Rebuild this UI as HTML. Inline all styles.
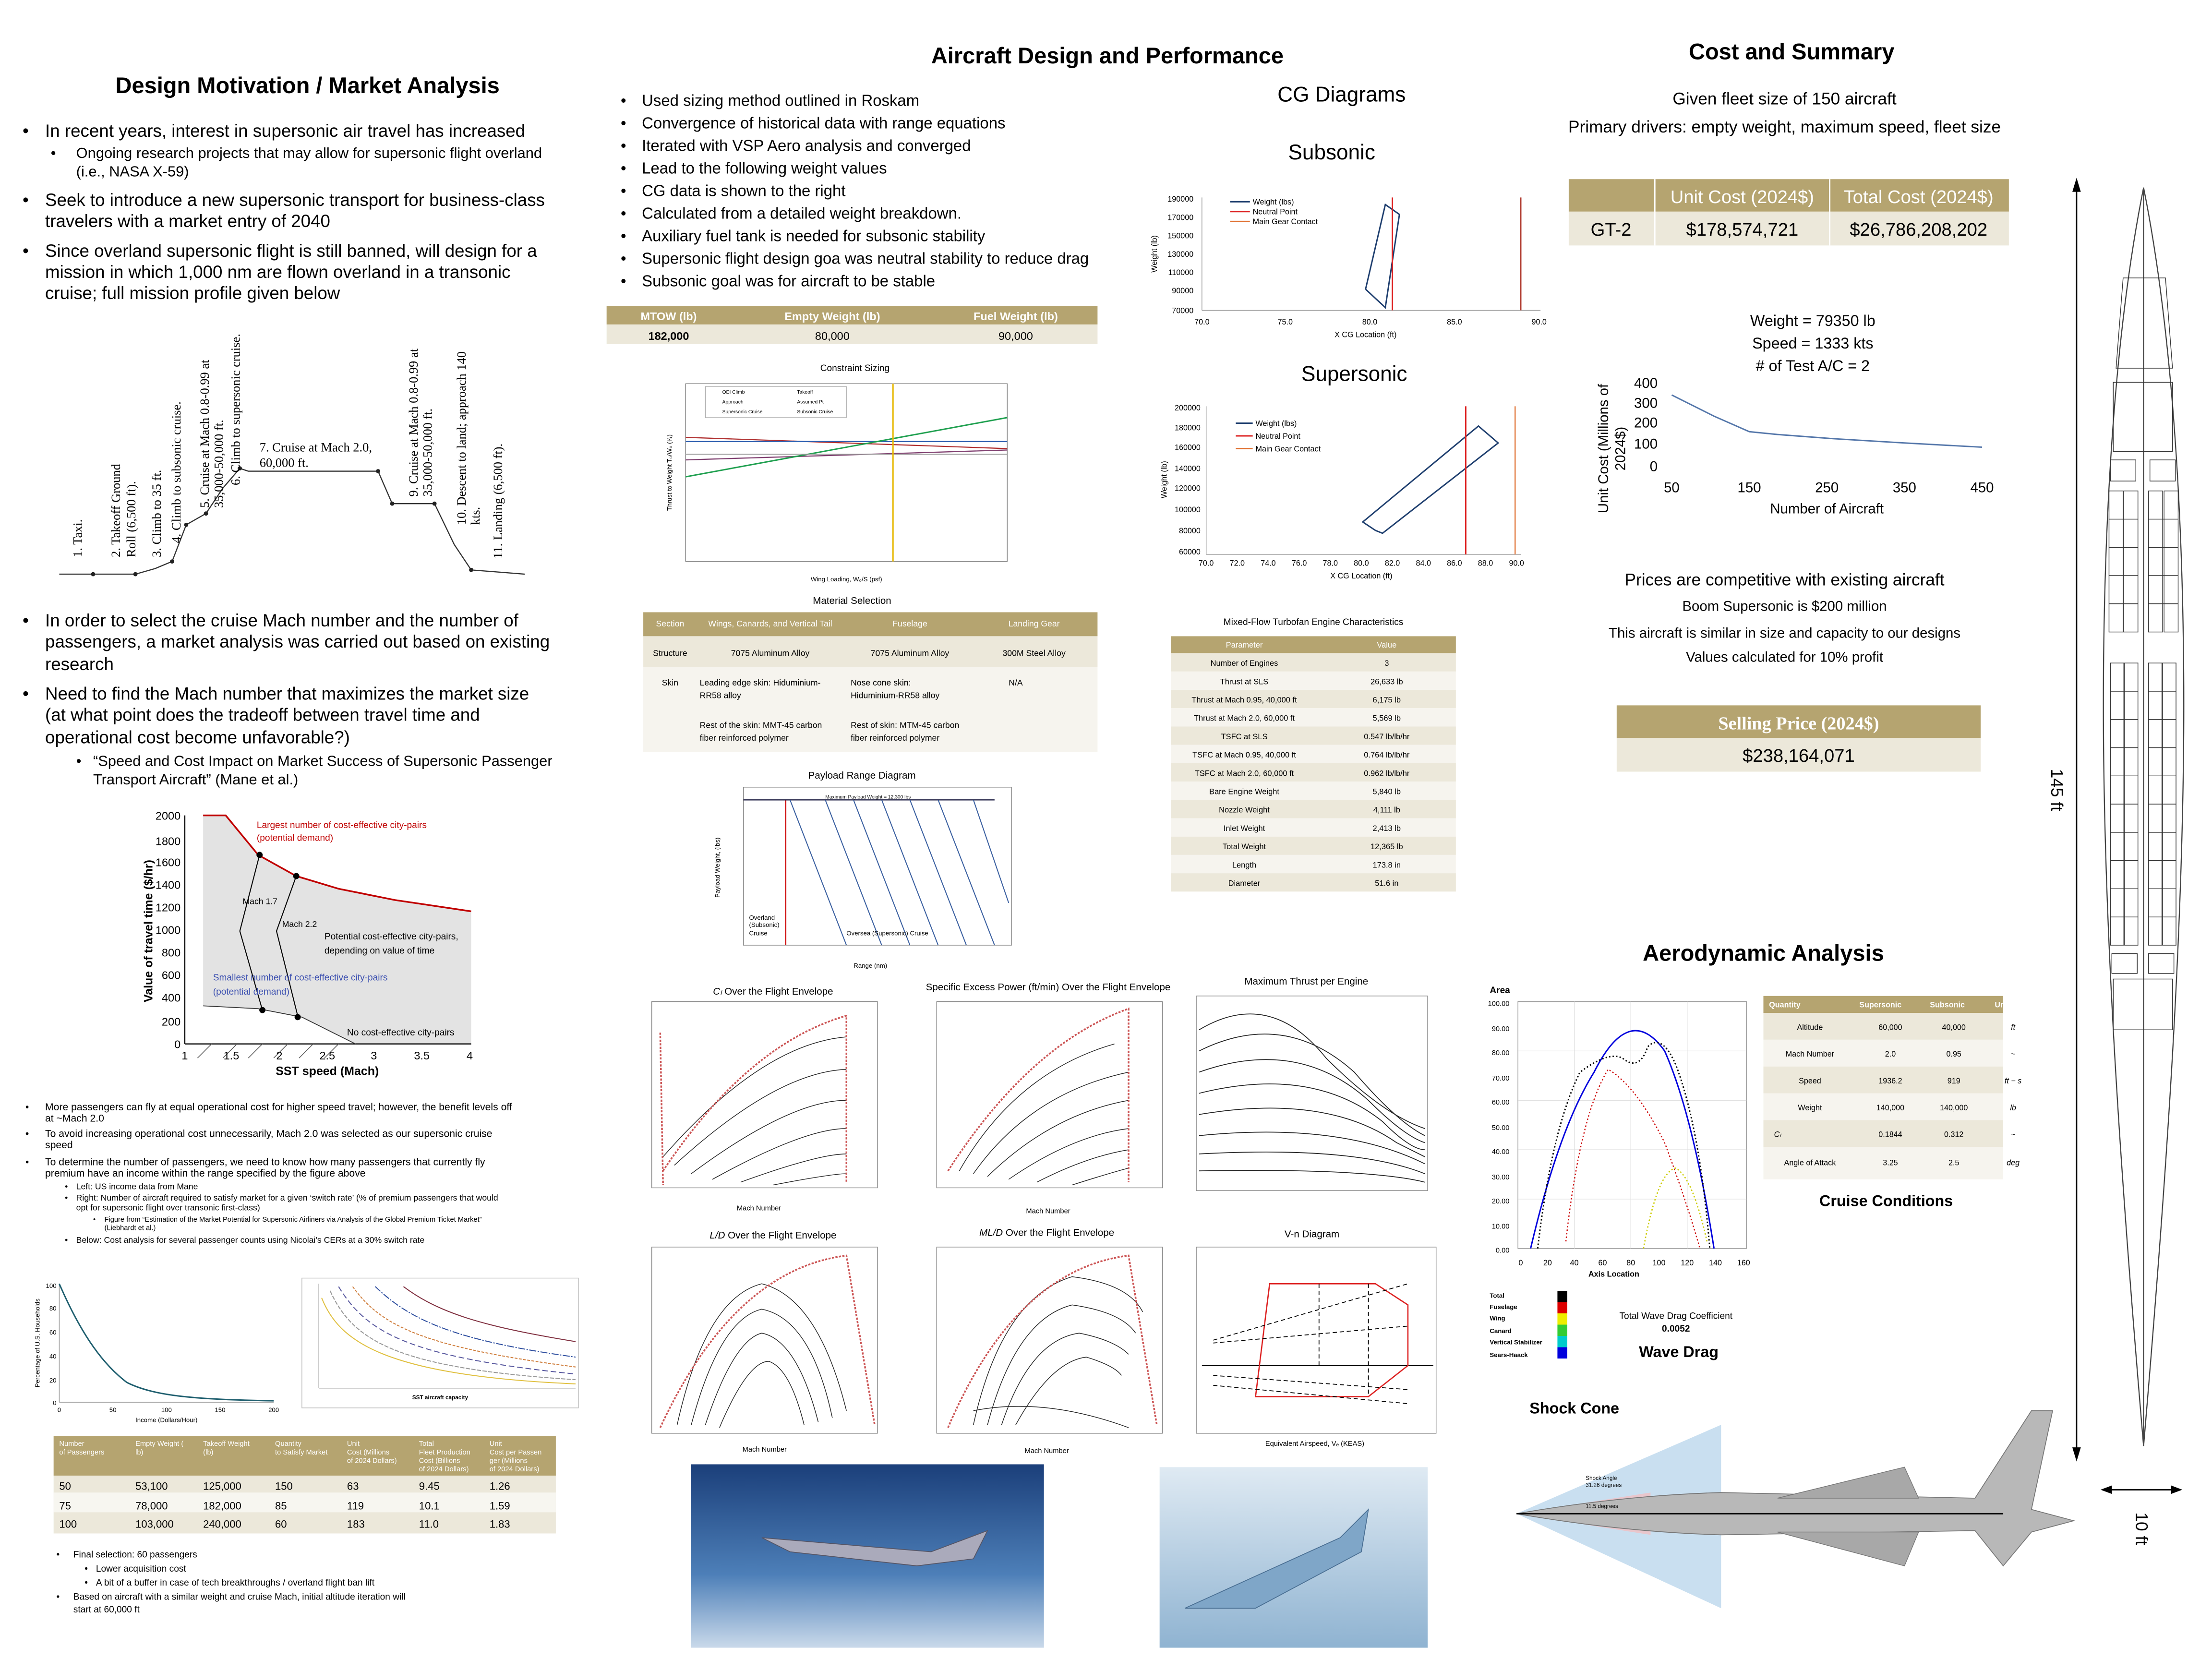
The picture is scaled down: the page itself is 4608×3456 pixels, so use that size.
<!DOCTYPE html>
<html><head><meta charset="utf-8">
<style>
html,body{margin:0;padding:0;background:#fff;}
svg{display:block;}
text{font-family:"Liberation Sans",sans-serif;fill:#000;}
.t{font-size:10.5px}
</style></head><body>
<svg width="4608" height="3456" viewBox="0 0 1568 1176" xmlns="http://www.w3.org/2000/svg">
<defs>
<linearGradient id="sky1" x1="0" y1="0" x2="0" y2="1"><stop offset="0" stop-color="#1b3f7a"/><stop offset="0.6" stop-color="#4d7fb8"/><stop offset="1" stop-color="#c9d9ea"/></linearGradient>
<linearGradient id="sky2" x1="0" y1="0" x2="0" y2="1"><stop offset="0" stop-color="#dfeaf3"/><stop offset="1" stop-color="#8fb3d1"/></linearGradient>
</defs>
<rect width="1568" height="1176" fill="#fff"/>

<!-- LEFT COLUMN -->
<text x="218" y="66" font-size="16" font-weight="bold" text-anchor="middle">Design Motivation / Market Analysis</text>
<g font-size="12.5">
<text x="16" y="97">•</text><text x="32" y="97">In recent years, interest in supersonic air travel has increased</text>
<text x="36" y="112" class="t">•</text><text x="54" y="112" font-size="10.5">Ongoing research projects that may allow for supersonic flight overland</text>
<text x="54" y="125" font-size="10.5">(i.e., NASA X-59)</text>
<text x="16" y="146">•</text><text x="32" y="146">Seek to introduce a new supersonic transport for business-class</text>
<text x="32" y="161">travelers with a market entry of 2040</text>
<text x="16" y="182">•</text><text x="32" y="182">Since overland supersonic flight is still banned, will design for a</text>
<text x="32" y="197">mission in which 1,000 nm are flown overland in a transonic</text>
<text x="32" y="212">cruise; full mission profile given below</text>
</g>
<g stroke="#333" stroke-width="0.8" fill="none">
<polyline points="42,407 96,407 110,403 122,398 132,372 146,364 158,346 170,332 176,334 268,334 278,357 308,357 322,386 334,404 372,407"/>
</g>
<g fill="#222"><circle cx="66" cy="407" r="1.5"/><circle cx="96" cy="407" r="1.5"/><circle cx="122" cy="398" r="1.5"/><circle cx="132" cy="372" r="1.5"/><circle cx="146" cy="364" r="1.5"/><circle cx="170" cy="332" r="1.5"/><circle cx="268" cy="334" r="1.5"/><circle cx="278" cy="357" r="1.5"/><circle cx="308" cy="357" r="1.5"/><circle cx="334" cy="404" r="1.5"/></g>
<g font-size="9">
<text transform="translate(58,395) rotate(-90)" style="font-family:'Liberation Serif'">1. Taxi.</text>
<text transform="translate(85,395) rotate(-90)" style="font-family:'Liberation Serif'">2. Takeoff Ground</text>
<text transform="translate(96,395) rotate(-90)" style="font-family:'Liberation Serif'">Roll (6,500 ft).</text>
<text transform="translate(114,395) rotate(-90)" style="font-family:'Liberation Serif'">3. Climb to 35 ft.</text>
<text transform="translate(128,385) rotate(-90)" style="font-family:'Liberation Serif'">4. Climb to subsonic cruise.</text>
<text transform="translate(148,360) rotate(-90)" style="font-family:'Liberation Serif'">5. Cruise at Mach 0.8-0.99 at</text>
<text transform="translate(158,360) rotate(-90)" style="font-family:'Liberation Serif'">35,000-50,000 ft.</text>
<text transform="translate(170,344) rotate(-90)" style="font-family:'Liberation Serif'">6. Climb to supersonic cruise.</text>
<text x="184" y="320" style="font-family:'Liberation Serif'">7. Cruise at Mach 2.0,</text>
<text x="184" y="331" style="font-family:'Liberation Serif'">60,000 ft.</text>
<text transform="translate(296,352) rotate(-90)" style="font-family:'Liberation Serif'">9. Cruise at Mach 0.8-0.99 at</text>
<text transform="translate(306,352) rotate(-90)" style="font-family:'Liberation Serif'">35,000-50,000 ft.</text>
<text transform="translate(330,372) rotate(-90)" style="font-family:'Liberation Serif'">10. Descent to land; approach 140</text>
<text transform="translate(340,372) rotate(-90)" style="font-family:'Liberation Serif'">kts.</text>
<text transform="translate(356,396) rotate(-90)" style="font-family:'Liberation Serif'">11. Landing (6,500 ft).</text>
</g>
<g font-size="12.5">
<text x="16" y="444">•</text><text x="32" y="444">In order to select the cruise Mach number and the number of</text>
<text x="32" y="459">passengers, a market analysis was carried out based on existing</text>
<text x="32" y="475">research</text>
<text x="16" y="496">•</text><text x="32" y="496">Need to find the Mach number that maximizes the market size</text>
<text x="32" y="511">(at what point does the tradeoff between travel time and</text>
<text x="32" y="527">operational cost become unfavorable?)</text>
<text x="54" y="543" font-size="10.5">•</text><text x="66" y="543" font-size="10.5">“Speed and Cost Impact on Market Success of Supersonic Passenger</text>
<text x="66" y="556" font-size="10.5">Transport Aircraft” (Mane et al.)</text>
</g>
<g>
<polygon points="144,578 160,578 183,606 210,621 240,630 280,638 334,646 334,740 252,740 214,721 183,715 144,713" fill="#e3e3e3"/>
<line x1="131" y1="740" x2="334" y2="740" stroke="#000" stroke-width="0.8"/>
<line x1="131" y1="578" x2="131" y2="740" stroke="#000" stroke-width="0.8"/>
<polyline points="144,578 160,578 183,606 210,621 240,630 280,638 334,646" fill="none" stroke="#c00000" stroke-width="1.2"/>
<polyline points="144,713 183,715 214,721 252,740" fill="none" stroke="#333" stroke-width="0.6"/>
<g stroke="#555" stroke-width="0.5"><line x1="150" y1="740" x2="140" y2="750"/><line x1="168" y1="740" x2="158" y2="750"/><line x1="186" y1="740" x2="176" y2="750"/><line x1="204" y1="740" x2="194" y2="750"/><line x1="222" y1="740" x2="212" y2="750"/><line x1="240" y1="740" x2="230" y2="750"/></g>
<g stroke="#000" stroke-width="0.7" fill="none"><line x1="184" y1="606" x2="170" y2="660"/><line x1="170" y1="660" x2="186" y2="716"/><line x1="210" y1="621" x2="196" y2="660"/><line x1="196" y1="660" x2="211" y2="720"/></g>
<circle cx="184" cy="606" r="2.2"/><circle cx="210" cy="621" r="2.2"/><circle cx="186" cy="716" r="2.2"/><circle cx="211" cy="721" r="2.2"/>
<g font-size="8" text-anchor="end"><text x="128" y="581">2000</text><text x="128" y="599">1800</text><text x="128" y="614">1600</text><text x="128" y="630">1400</text><text x="128" y="646">1200</text><text x="128" y="662">1000</text><text x="128" y="678">800</text><text x="128" y="694">600</text><text x="128" y="710">400</text><text x="128" y="727">200</text><text x="128" y="743">0</text></g>
<g font-size="8" text-anchor="middle"><text x="131" y="751">1</text><text x="164" y="751">1.5</text><text x="198" y="751">2</text><text x="232" y="751">2.5</text><text x="265" y="751">3</text><text x="299" y="751">3.5</text><text x="333" y="751">4</text></g>
<text x="232" y="762" font-size="8.5" font-weight="bold" text-anchor="middle">SST speed (Mach)</text>
<text transform="translate(108,660) rotate(-90)" font-size="8.5" font-weight="bold" text-anchor="middle">Value of travel time ($/hr)</text>
<text x="182" y="587" font-size="6.5" style="fill:#c00000">Largest number of cost-effective city-pairs</text>
<text x="182" y="596" font-size="6.5" style="fill:#c00000">(potential demand)</text>
<text x="172" y="641" font-size="6">Mach 1.7</text><text x="200" y="657" font-size="6">Mach 2.2</text>
<text x="230" y="666" font-size="6.5">Potential cost-effective city-pairs,</text>
<text x="230" y="676" font-size="6.5">depending on value of time</text>
<text x="151" y="695" font-size="6.5" style="fill:#3b4fb0">Smallest number of cost-effective city-pairs</text>
<text x="151" y="705" font-size="6.5" style="fill:#3b4fb0">(potential demand)</text>
<text x="246" y="734" font-size="6.5">No cost-effective city-pairs</text>
</g>
<g font-size="7.2">
<text x="18" y="787">•</text><text x="32" y="787">More passengers can fly at equal operational cost for higher speed travel; however, the benefit levels off</text>
<text x="32" y="795">at ~Mach 2.0</text>
<text x="18" y="806">•</text><text x="32" y="806">To avoid increasing operational cost unnecessarily, Mach 2.0 was selected as our supersonic cruise</text>
<text x="32" y="814">speed</text>
<text x="18" y="826">•</text><text x="32" y="826">To determine the number of passengers, we need to know how many passengers that currently fly</text>
<text x="32" y="834">premium have an income within the range specified by the figure above</text>
<text x="46" y="843" font-size="6">•</text><text x="54" y="843" font-size="6">Left: US income data from Mane</text>
<text x="46" y="851" font-size="6">•</text><text x="54" y="851" font-size="6">Right: Number of aircraft required to satisfy market for a given ‘switch rate’ (% of premium passengers that would</text>
<text x="54" y="858" font-size="6">opt for supersonic flight over transonic first-class)</text>
<text x="66" y="866" font-size="5">•</text><text x="74" y="866" font-size="5">Figure from “Estimation of the Market Potential for Supersonic Airliners via Analysis of the Global Premium Ticket Market”</text>
<text x="74" y="872" font-size="5">(Liebhardt et al.)</text>
<text x="46" y="881" font-size="6">•</text><text x="54" y="881" font-size="6">Below: Cost analysis for several passenger counts using Nicolai’s CERs at a 30% switch rate</text>
</g>
<g>
<line x1="42" y1="910" x2="42" y2="994" stroke="#999" stroke-width="0.5"/><line x1="42" y1="994" x2="194" y2="994" stroke="#999" stroke-width="0.5"/>
<path d="M42,910 C55,940 70,965 90,980 C110,990 140,992 194,993" fill="none" stroke="#1f5f6f" stroke-width="1"/>
<g font-size="4.5" text-anchor="end"><text x="40" y="913">100</text><text x="40" y="929">80</text><text x="40" y="946">60</text><text x="40" y="963">40</text><text x="40" y="980">20</text><text x="40" y="996">0</text></g>
<g font-size="4.5" text-anchor="middle"><text x="42" y="1001">0</text><text x="80" y="1001">50</text><text x="118" y="1001">100</text><text x="156" y="1001">150</text><text x="194" y="1001">200</text></g>
<text x="118" y="1008" font-size="4.5" text-anchor="middle">Income (Dollars/Hour)</text>
<text transform="translate(28,952) rotate(-90)" font-size="4.5" text-anchor="middle">Percentage of U.S. Households</text>
</g>
<g>
<rect x="214" y="906" width="196" height="92" fill="none" stroke="#bbb" stroke-width="0.5"/>
<line x1="226" y1="910" x2="226" y2="984" stroke="#888" stroke-width="0.4"/><line x1="226" y1="984" x2="408" y2="984" stroke="#888" stroke-width="0.4"/>
<path d="M228,920 C240,950 270,975 408,981" fill="none" stroke="#e0c040" stroke-width="0.7"/>
<path d="M234,915 C250,950 280,970 408,978" fill="none" stroke="#999" stroke-width="0.7" stroke-dasharray="3,1"/>
<path d="M240,912 C260,945 290,962 408,974" fill="none" stroke="#5a5aa0" stroke-width="0.7" stroke-dasharray="4,2"/>
<path d="M250,912 C270,940 300,955 408,969" fill="none" stroke="#d08040" stroke-width="0.7" stroke-dasharray="2,1"/>
<path d="M266,912 C290,935 320,950 408,962" fill="none" stroke="#3050a0" stroke-width="0.7" stroke-dasharray="5,1,1,1"/>
<path d="M286,912 C310,930 340,940 408,951" fill="none" stroke="#803040" stroke-width="0.7"/>
<text x="312" y="992" font-size="4" text-anchor="middle" font-weight="bold">SST aircraft capacity</text>
</g>
<g font-size="5">
<rect x="38" y="1018" width="356" height="28" fill="#b5a470"/>
<rect x="38" y="1046" width="356" height="41" fill="#ece8da"/>
<rect x="38" y="1058" width="356" height="14" fill="#fff" opacity="0.6"/>
<g><text x="42" y="1025" style="fill:#fff">Number</text><text x="42" y="1031" style="fill:#fff">of Passengers</text><text x="96" y="1025" style="fill:#fff">Empty Weight (</text><text x="96" y="1031" style="fill:#fff">lb)</text><text x="144" y="1025" style="fill:#fff">Takeoff Weight</text><text x="144" y="1031" style="fill:#fff">(lb)</text><text x="195" y="1025" style="fill:#fff">Quantity</text><text x="195" y="1031" style="fill:#fff">to Satisfy Market</text><text x="246" y="1025" style="fill:#fff">Unit</text><text x="246" y="1031" style="fill:#fff">Cost (Millions</text><text x="246" y="1037" style="fill:#fff">of 2024 Dollars)</text><text x="297" y="1025" style="fill:#fff">Total</text><text x="297" y="1031" style="fill:#fff">Fleet Production</text><text x="297" y="1037" style="fill:#fff">Cost (Billions</text><text x="297" y="1043" style="fill:#fff">of 2024 Dollars)</text><text x="347" y="1025" style="fill:#fff">Unit</text><text x="347" y="1031" style="fill:#fff">Cost per Passen</text><text x="347" y="1037" style="fill:#fff">ger (Millions</text><text x="347" y="1043" style="fill:#fff">of 2024 Dollars)</text></g>
<g font-size="7.5"><text x="42" y="1056">50</text><text x="96" y="1056">53,100</text><text x="144" y="1056">125,000</text><text x="195" y="1056">150</text><text x="246" y="1056">63</text><text x="297" y="1056">9.45</text><text x="347" y="1056">1.26</text>
<text x="42" y="1070">75</text><text x="96" y="1070">78,000</text><text x="144" y="1070">182,000</text><text x="195" y="1070">85</text><text x="246" y="1070">119</text><text x="297" y="1070">10.1</text><text x="347" y="1070">1.59</text>
<text x="42" y="1083">100</text><text x="96" y="1083">103,000</text><text x="144" y="1083">240,000</text><text x="195" y="1083">60</text><text x="246" y="1083">183</text><text x="297" y="1083">11.0</text><text x="347" y="1083">1.83</text></g>
</g>
<g font-size="6.5">
<text x="40" y="1104">•</text><text x="52" y="1104">Final selection: 60 passengers</text>
<text x="60" y="1114">•</text><text x="68" y="1114">Lower acquisition cost</text>
<text x="60" y="1124">•</text><text x="68" y="1124">A bit of a buffer in case of tech breakthroughs / overland flight ban lift</text>
<text x="40" y="1134">•</text><text x="52" y="1134">Based on aircraft with a similar weight and cruise Mach, initial altitude iteration will</text>
<text x="52" y="1143">start at 60,000 ft</text>
</g>

<!-- MIDDLE COLUMN -->
<text x="785" y="45" font-size="16" font-weight="bold" text-anchor="middle">Aircraft Design and Performance</text>
<g font-size="11.2">
<text x="440" y="75">•</text><text x="455" y="75">Used sizing method outlined in Roskam</text>
<text x="440" y="91">•</text><text x="455" y="91">Convergence of historical data with range equations</text>
<text x="440" y="107">•</text><text x="455" y="107">Iterated with VSP Aero analysis and converged</text>
<text x="440" y="123">•</text><text x="455" y="123">Lead to the following weight values</text>
<text x="440" y="139">•</text><text x="455" y="139">CG data is shown to the right</text>
<text x="440" y="155">•</text><text x="455" y="155">Calculated from a detailed weight breakdown.</text>
<text x="440" y="171">•</text><text x="455" y="171">Auxiliary fuel tank is needed for subsonic stability</text>
<text x="440" y="187">•</text><text x="455" y="187">Supersonic flight design goa was neutral stability to reduce drag</text>
<text x="440" y="203">•</text><text x="455" y="203">Subsonic goal was for aircraft to be stable</text>
</g>
<rect x="430" y="217" width="348" height="13" fill="#b5a470"/><rect x="430" y="230" width="348" height="14" fill="#ece8da"/>
<g font-size="8" text-anchor="middle" font-weight="bold"><text x="474" y="227" style="fill:#fff">MTOW (lb)</text><text x="590" y="227" style="fill:#fff">Empty Weight (lb)</text><text x="720" y="227" style="fill:#fff">Fuel Weight (lb)</text></g>
<g font-size="8" text-anchor="middle"><text x="474" y="241" font-weight="bold">182,000</text><text x="590" y="241">80,000</text><text x="720" y="241">90,000</text></g>
<text x="606" y="263" font-size="6.5" text-anchor="middle">Constraint Sizing</text>
<rect x="486" y="272" width="228" height="126" fill="none" stroke="#888" stroke-width="0.5"/>
<line x1="486" y1="310" x2="714" y2="318" stroke="#b03030" stroke-width="0.8"/>
<line x1="486" y1="313" x2="714" y2="313" stroke="#3060b0" stroke-width="0.8"/>
<line x1="486" y1="326" x2="714" y2="319" stroke="#804070" stroke-width="0.8"/>
<line x1="486" y1="338" x2="714" y2="296" stroke="#20a050" stroke-width="1"/>
<line x1="486" y1="322" x2="714" y2="322" stroke="#999" stroke-width="0.6"/>
<line x1="633" y1="272" x2="633" y2="398" stroke="#e6b800" stroke-width="1"/>
<rect x="500" y="274" width="100" height="22" fill="#fff" stroke="#aaa" stroke-width="0.4"/>
<g font-size="3.5"><text x="512" y="279">OEI Climb</text><text x="512" y="286">Approach</text><text x="512" y="293">Supersonic Cruise</text><text x="565" y="279">Takeoff</text><text x="565" y="286">Assumed Pt</text><text x="565" y="293">Subsonic Cruise</text></g>
<text x="600" y="412" font-size="4.5" text-anchor="middle">Wing Loading, W₀/S (psf)</text>
<text transform="translate(476,335) rotate(-90)" font-size="4.5" text-anchor="middle">Thrust to Weight T₀/W₀ (¹⁄₁)</text>
<text x="604" y="428" font-size="7" text-anchor="middle">Material Selection</text>
<rect x="456" y="434" width="322" height="17" fill="#b5a470"/>
<rect x="456" y="451" width="322" height="22" fill="#ece8da"/><rect x="456" y="473" width="322" height="60" fill="#f6f4ee"/>
<g font-size="6" text-anchor="middle"><text x="475" y="444" style="fill:#fff">Section</text><text x="546" y="444" style="fill:#fff">Wings, Canards, and Vertical Tail</text><text x="645" y="444" style="fill:#fff">Fuselage</text><text x="733" y="444" style="fill:#fff">Landing Gear</text>
<text x="475" y="465">Structure</text><text x="546" y="465">7075 Aluminum Alloy</text><text x="645" y="465">7075 Aluminum Alloy</text><text x="733" y="465">300M Steel Alloy</text><text x="475" y="486">Skin</text><text x="720" y="486">N/A</text></g>
<g font-size="6"><text x="496" y="486">Leading edge skin: Hiduminium-</text><text x="496" y="495">RR58 alloy</text><text x="496" y="516">Rest of the skin: MMT-45 carbon</text><text x="496" y="525">fiber reinforced polymer</text>
<text x="603" y="486">Nose cone skin:</text><text x="603" y="495">Hiduminium-RR58 alloy</text><text x="603" y="516">Rest of skin: MTM-45 carbon</text><text x="603" y="525">fiber reinforced polymer</text></g>
<text x="611" y="552" font-size="7" text-anchor="middle">Payload Range Diagram</text>
<rect x="527" y="558" width="190" height="112" fill="none" stroke="#888" stroke-width="0.5"/>
<line x1="557" y1="567" x2="557" y2="670" stroke="#c00" stroke-width="0.8"/>
<line x1="527" y1="567" x2="705" y2="567" stroke="#224" stroke-width="0.8"/>
<g stroke="#3a5fa0" stroke-width="0.7"><line x1="560" y1="567" x2="600" y2="670"/><line x1="585" y1="567" x2="625" y2="670"/><line x1="605" y1="567" x2="645" y2="670"/><line x1="625" y1="567" x2="665" y2="670"/><line x1="645" y1="567" x2="685" y2="670"/><line x1="665" y1="567" x2="705" y2="670"/><line x1="690" y1="567" x2="715" y2="640"/></g>
<text x="585" y="566" font-size="3.5">Maximum Payload Weight = 12,300 lbs</text>
<g font-size="4.5"><text x="531" y="652">Overland</text><text x="531" y="657">(Subsonic)</text><text x="531" y="663">Cruise</text><text x="600" y="663">Oversea (Supersonic) Cruise</text></g>
<text x="617" y="686" font-size="4.5" text-anchor="middle">Range (nm)</text>
<text transform="translate(510,615) rotate(-90)" font-size="4.5" text-anchor="middle">Payload Weight, (lbs)</text>
<g>
<text x="548" y="705" font-size="7" text-anchor="middle"><tspan font-style="italic">Cₗ</tspan> Over the Flight Envelope</text>
<rect x="462" y="710" width="160" height="132" fill="none" stroke="#888" stroke-width="0.5"/>
<g fill="none" stroke="#222" stroke-width="0.5"><path d="M470,820 Q540,740 600,735"/><path d="M478,826 Q550,760 600,758"/><path d="M490,832 Q560,780 600,780"/><path d="M505,836 Q570,800 600,800"/><path d="M525,838 Q580,818 600,818"/><path d="M548,840 Q590,832 600,832"/></g>
<path d="M468,732 L470,840" stroke="#c55" stroke-width="1.2" stroke-dasharray="1.5,1"/><path d="M470,830 Q530,740 600,720 L600,838" stroke="#c55" stroke-width="1.2" fill="none" stroke-dasharray="1.5,1"/>
<text x="538" y="858" font-size="5" text-anchor="middle">Mach Number</text>
<text x="743" y="702" font-size="7" text-anchor="middle">Specific Excess Power (ft/min) Over the Flight Envelope</text>
<rect x="664" y="710" width="160" height="132" fill="none" stroke="#888" stroke-width="0.5"/>
<g fill="none" stroke="#222" stroke-width="0.5"><path d="M680,830 Q720,760 790,740"/><path d="M690,832 Q730,775 800,760"/><path d="M700,834 Q745,790 800,780"/><path d="M715,836 Q760,805 800,800"/><path d="M735,838 Q770,820 800,815"/><path d="M760,840 Q785,832 800,828"/></g>
<path d="M672,830 Q730,740 800,715 L800,838" stroke="#c55" stroke-width="1.2" fill="none" stroke-dasharray="1.5,1"/>
<text x="743" y="860" font-size="5" text-anchor="middle">Mach Number</text>
<text x="548" y="878" font-size="7" text-anchor="middle"><tspan font-style="italic">L/D</tspan> Over the Flight Envelope</text>
<rect x="462" y="884" width="160" height="132" fill="none" stroke="#888" stroke-width="0.5"/>
<g fill="none" stroke="#222" stroke-width="0.5"><path d="M480,1010 Q500,920 540,910 Q580,920 600,1000"/><path d="M490,1010 Q510,935 540,928 Q575,935 590,1005"/><path d="M500,1010 Q520,950 540,945 Q565,950 580,1008"/><path d="M510,1012 Q530,965 545,965 Q560,970 570,1010"/></g>
<path d="M468,1012 Q520,900 600,890 L620,1010" stroke="#c55" stroke-width="1.2" fill="none" stroke-dasharray="1.5,1"/>
<text x="542" y="1029" font-size="5" text-anchor="middle">Mach Number</text>
<text x="742" y="876" font-size="7" text-anchor="middle"><tspan font-style="italic">ML/D</tspan> Over the Flight Envelope</text>
<rect x="664" y="884" width="160" height="132" fill="none" stroke="#888" stroke-width="0.5"/>
<g fill="none" stroke="#222" stroke-width="0.5"><path d="M690,1010 Q710,920 760,905 Q800,910 810,930"/><path d="M700,1010 Q720,935 760,925 Q795,930 805,945"/><path d="M710,1010 Q730,950 765,945 Q790,950 800,960"/><path d="M720,1010 Q745,965 770,962 Q790,968 795,975"/><path d="M690,1000 Q740,990 800,1012"/></g>
<path d="M672,1012 Q720,900 800,890 L820,1010" stroke="#c55" stroke-width="1.2" fill="none" stroke-dasharray="1.5,1"/>
<text x="742" y="1030" font-size="5" text-anchor="middle">Mach Number</text>
</g>
<text x="926" y="698" font-size="7" text-anchor="middle">Maximum Thrust per Engine</text>
<rect x="848" y="706" width="164" height="138" fill="none" stroke="#888" stroke-width="0.5"/>
<g fill="none" stroke="#222" stroke-width="0.6"><path d="M850,730 Q900,700 940,750 Q980,790 1010,800"/><path d="M850,745 Q910,715 960,760 Q990,795 1010,805"/><path d="M850,760 Q920,735 970,780 Q995,805 1010,810"/><path d="M850,775 Q930,755 980,795 Q1000,815 1010,815"/><path d="M850,790 Q940,775 990,810 L1010,820"/><path d="M850,805 Q950,795 1010,825"/><path d="M850,818 Q960,812 1010,832"/><path d="M850,830 Q970,828 1010,838"/></g>
<text x="930" y="877" font-size="7" text-anchor="middle">V-n Diagram</text>
<rect x="848" y="884" width="170" height="132" fill="none" stroke="#888" stroke-width="0.5"/>
<line x1="852" y1="968" x2="1016" y2="968" stroke="#000" stroke-width="0.6"/>
<polygon points="900,910 975,910 998,925 998,968 970,990 890,990" fill="none" stroke="#d22" stroke-width="0.9"/>
<g stroke="#000" stroke-width="0.6" stroke-dasharray="3,2"><line x1="860" y1="950" x2="998" y2="910"/><line x1="860" y1="952" x2="998" y2="940"/><line x1="860" y1="975" x2="998" y2="985"/><line x1="860" y1="982" x2="998" y2="995"/><line x1="935" y1="910" x2="935" y2="968"/><line x1="970" y1="910" x2="970" y2="990"/></g>
<text x="932" y="1025" font-size="5" text-anchor="middle">Equivalent Airspeed, Vₑ (KEAS)</text>
<rect x="490" y="1038" width="250" height="130" fill="url(#sky1)"/>
<path d="M540,1090 L660,1100 L700,1085 L690,1105 L650,1110 L560,1100 Z" fill="#aab" stroke="#556" stroke-width="0.6"/>
<rect x="822" y="1040" width="190" height="128" fill="url(#sky2)"/>
<path d="M840,1140 L950,1090 L970,1070 L965,1100 L890,1140 Z" fill="#7fa6c8" stroke="#4a6f93" stroke-width="0.6"/>
<text x="951" y="72" font-size="15" text-anchor="middle">CG Diagrams</text>
<text x="944" y="113" font-size="15" text-anchor="middle">Subsonic</text>
<line x1="852" y1="140" x2="852" y2="220" stroke="#999" stroke-width="0.5"/><line x1="852" y1="220" x2="1092" y2="220" stroke="#999" stroke-width="0.5"/>
<polyline points="968,205 982,145 992,152 982,218 968,205" fill="none" stroke="#1f3f6f" stroke-width="1"/>
<line x1="987" y1="140" x2="987" y2="220" stroke="#d22" stroke-width="1"/><line x1="1078" y1="140" x2="1078" y2="220" stroke="#b03a2e" stroke-width="1"/>
<g font-size="5.5"><line x1="872" y1="143" x2="886" y2="143" stroke="#1f3f6f"/><text x="888" y="145">Weight (lbs)</text><line x1="872" y1="150" x2="886" y2="150" stroke="#d22"/><text x="888" y="152">Neutral Point</text><line x1="872" y1="157" x2="886" y2="157" stroke="#e07030"/><text x="888" y="159">Main Gear Contact</text></g>
<g font-size="5.5" text-anchor="end"><text x="846" y="143">190000</text><text x="846" y="156">170000</text><text x="846" y="169">150000</text><text x="846" y="182">130000</text><text x="846" y="195">110000</text><text x="846" y="208">90000</text><text x="846" y="222">70000</text></g>
<g font-size="5.5" text-anchor="middle"><text x="852" y="230">70.0</text><text x="911" y="230">75.0</text><text x="971" y="230">80.0</text><text x="1031" y="230">85.0</text><text x="1091" y="230">90.0</text><text x="968" y="239">X CG Location (ft)</text></g>
<text transform="translate(820,180) rotate(-90)" font-size="5.5" text-anchor="middle">Weight (lb)</text>
<text x="960" y="270" font-size="15" text-anchor="middle">Supersonic</text>
<line x1="855" y1="288" x2="855" y2="393" stroke="#999" stroke-width="0.5"/><line x1="855" y1="393" x2="1078" y2="393" stroke="#999" stroke-width="0.5"/>
<polygon points="966,370 1048,302 1062,314 980,378 975,376" fill="none" stroke="#1f3f6f" stroke-width="1"/>
<line x1="1039" y1="288" x2="1039" y2="393" stroke="#d22" stroke-width="1"/><line x1="1074" y1="288" x2="1074" y2="393" stroke="#e07030" stroke-width="0.8"/>
<g font-size="5.5"><line x1="876" y1="300" x2="888" y2="300" stroke="#1f3f6f"/><text x="890" y="302">Weight (lbs)</text><line x1="876" y1="309" x2="888" y2="309" stroke="#d22"/><text x="890" y="311">Neutral Point</text><line x1="876" y1="318" x2="888" y2="318" stroke="#e07030"/><text x="890" y="320">Main Gear Contact</text></g>
<g font-size="5.5" text-anchor="end"><text x="851" y="291">200000</text><text x="851" y="305">180000</text><text x="851" y="319">160000</text><text x="851" y="334">140000</text><text x="851" y="348">120000</text><text x="851" y="363">100000</text><text x="851" y="378">80000</text><text x="851" y="393">60000</text></g>
<g font-size="5.5" text-anchor="middle"><text x="855" y="401">70.0</text><text x="877" y="401">72.0</text><text x="899" y="401">74.0</text><text x="921" y="401">76.0</text><text x="943" y="401">78.0</text><text x="965" y="401">80.0</text><text x="987" y="401">82.0</text><text x="1009" y="401">84.0</text><text x="1031" y="401">86.0</text><text x="1053" y="401">88.0</text><text x="1075" y="401">90.0</text><text x="965" y="410">X CG Location (ft)</text></g>
<text transform="translate(827,340) rotate(-90)" font-size="5.5" text-anchor="middle">Weight (lb)</text>
<text x="931" y="443" font-size="6.5" text-anchor="middle">Mixed-Flow Turbofan Engine Characteristics</text>
<rect x="830" y="451" width="202" height="12" fill="#b5a470"/>
<g>
<rect x="830" y="463" width="202" height="13" fill="#ece8da"/><rect x="830" y="489" width="202" height="13" fill="#ece8da"/><rect x="830" y="515" width="202" height="13" fill="#ece8da"/><rect x="830" y="541" width="202" height="13" fill="#ece8da"/><rect x="830" y="567" width="202" height="13" fill="#ece8da"/><rect x="830" y="593" width="202" height="13" fill="#ece8da"/><rect x="830" y="619" width="202" height="13" fill="#ece8da"/>
<rect x="830" y="476" width="202" height="13" fill="#f6f4ee"/><rect x="830" y="502" width="202" height="13" fill="#f6f4ee"/><rect x="830" y="528" width="202" height="13" fill="#f6f4ee"/><rect x="830" y="554" width="202" height="13" fill="#f6f4ee"/><rect x="830" y="580" width="202" height="13" fill="#f6f4ee"/><rect x="830" y="606" width="202" height="13" fill="#f6f4ee"/>
</g>
<g font-size="5.6" text-anchor="middle"><text x="882" y="459" style="fill:#fff">Parameter</text><text x="983" y="459" style="fill:#fff">Value</text>
<text x="882" y="472">Number of Engines</text><text x="983" y="472">3</text>
<text x="882" y="485">Thrust at SLS</text><text x="983" y="485">26,633 lb</text>
<text x="882" y="498">Thrust at Mach 0.95, 40,000 ft</text><text x="983" y="498">6,175 lb</text>
<text x="882" y="511">Thrust at Mach 2.0, 60,000 ft</text><text x="983" y="511">5,569 lb</text>
<text x="882" y="524">TSFC at SLS</text><text x="983" y="524">0.547 lb/lb/hr</text>
<text x="882" y="537">TSFC at Mach 0.95, 40,000 ft</text><text x="983" y="537">0.764 lb/lb/hr</text>
<text x="882" y="550">TSFC at Mach 2.0, 60,000 ft</text><text x="983" y="550">0.962 lb/lb/hr</text>
<text x="882" y="563">Bare Engine Weight</text><text x="983" y="563">5,840 lb</text>
<text x="882" y="576">Nozzle Weight</text><text x="983" y="576">4,111 lb</text>
<text x="882" y="589">Inlet Weight</text><text x="983" y="589">2,413 lb</text>
<text x="882" y="602">Total Weight</text><text x="983" y="602">12,365 lb</text>
<text x="882" y="615">Length</text><text x="983" y="615">173.8 in</text>
<text x="882" y="628">Diameter</text><text x="983" y="628">51.6 in</text></g>

<!-- RIGHT COLUMN -->
<text x="1270" y="42" font-size="16" font-weight="bold" text-anchor="middle">Cost and Summary</text>
<text x="1265" y="74" font-size="12" text-anchor="middle">Given fleet size of 150 aircraft</text>
<text x="1265" y="94" font-size="12" text-anchor="middle">Primary drivers: empty weight, maximum speed, fleet size</text>
<rect x="1112" y="127" width="312" height="23" fill="#b5a470"/><rect x="1112" y="150" width="312" height="24" fill="#ece8da"/>
<line x1="1173" y1="127" x2="1173" y2="174" stroke="#fff" stroke-width="1"/><line x1="1297" y1="127" x2="1297" y2="174" stroke="#fff" stroke-width="1"/>
<g font-size="13" text-anchor="middle"><text x="1235" y="144" style="fill:#fff">Unit Cost (2024$)</text><text x="1360" y="144" style="fill:#fff">Total Cost (2024$)</text><text x="1142" y="167">GT-2</text><text x="1235" y="167">$178,574,721</text><text x="1360" y="167">$26,786,208,202</text></g>
<g font-size="11" text-anchor="middle"><text x="1285" y="231">Weight = 79350 lb</text><text x="1285" y="247">Speed = 1333 kts</text><text x="1285" y="263">&#35; of Test A/C = 2</text></g>
<polyline points="1185,280 1215,295 1240,306 1260,308 1300,311 1350,314 1405,317" fill="none" stroke="#5577aa" stroke-width="1"/>
<g font-size="10" text-anchor="end"><text x="1175" y="275">400</text><text x="1175" y="289">300</text><text x="1175" y="303">200</text><text x="1175" y="318">100</text><text x="1175" y="334">0</text></g>
<g font-size="10" text-anchor="middle"><text x="1185" y="349">50</text><text x="1240" y="349">150</text><text x="1295" y="349">250</text><text x="1350" y="349">350</text><text x="1405" y="349">450</text><text x="1295" y="364">Number of Aircraft</text></g>
<text transform="translate(1140,318) rotate(-90)" font-size="10" text-anchor="middle">Unit Cost (Millions of</text>
<text transform="translate(1152,318) rotate(-90)" font-size="10" text-anchor="middle">2024$)</text>
<text x="1265" y="415" font-size="12" text-anchor="middle">Prices are competitive with existing aircraft</text>
<g font-size="10" text-anchor="middle"><text x="1265" y="433">Boom Supersonic is $200 million</text><text x="1265" y="452">This aircraft is similar in size and capacity to our designs</text><text x="1265" y="469">Values calculated for 10% profit</text></g>
<rect x="1146" y="500" width="258" height="23" fill="#b5a470"/><rect x="1146" y="523" width="258" height="24" fill="#ece8da"/>
<text x="1275" y="517" font-size="13" font-weight="bold" text-anchor="middle" style="font-family:'Liberation Serif';fill:#fff">Selling Price (2024$)</text>
<text x="1275" y="540" font-size="13" text-anchor="middle">$238,164,071</text>
<!-- aircraft planform -->
<line x1="1472" y1="130" x2="1472" y2="1032" stroke="#000" stroke-width="1"/>
<polygon points="1472,126 1469,136 1475,136"/><polygon points="1472,1036 1469,1026 1475,1026"/>
<text transform="translate(1454,545) rotate(90)" font-size="12">145 ft</text>
<path d="M1519.5,133 C1500,230 1491,360 1491,500 C1491,650 1502,820 1519.5,1025 C1537,820 1548,650 1548,500 C1548,360 1539,230 1519.5,133 Z" fill="#fff" stroke="#444" stroke-width="0.8"/>
<line x1="1519.5" y1="133" x2="1519.5" y2="1025" stroke="#444" stroke-width="0.8"/>
<g fill="none" stroke="#333" stroke-width="0.5">
<path d="M1505,197 L1535,197 L1540,261 L1500,261 Z"/>
<rect x="1498" y="271" width="42" height="49"/>
<rect x="1496" y="326" width="18" height="15"/><rect x="1524" y="326" width="18" height="15"/>
<rect x="1495" y="348" width="10" height="100"/><rect x="1505.5" y="348" width="10" height="100"/><rect x="1523" y="348" width="10" height="100"/><rect x="1534" y="348" width="10" height="100"/>
<line x1="1495" y1="368" x2="1515.5" y2="368"/><line x1="1495" y1="388" x2="1515.5" y2="388"/><line x1="1495" y1="408" x2="1515.5" y2="408"/><line x1="1495" y1="428" x2="1515.5" y2="428"/>
<line x1="1523" y1="368" x2="1544" y2="368"/><line x1="1523" y1="388" x2="1544" y2="388"/><line x1="1523" y1="408" x2="1544" y2="408"/><line x1="1523" y1="428" x2="1544" y2="428"/>
<rect x="1496" y="470" width="9.5" height="200"/><rect x="1506" y="470" width="9.5" height="200"/><rect x="1523" y="470" width="9.5" height="200"/><rect x="1533" y="470" width="9.5" height="200"/>
<line x1="1496" y1="490" x2="1515.5" y2="490"/><line x1="1496" y1="510" x2="1515.5" y2="510"/><line x1="1496" y1="530" x2="1515.5" y2="530"/><line x1="1496" y1="550" x2="1515.5" y2="550"/><line x1="1496" y1="570" x2="1515.5" y2="570"/><line x1="1496" y1="590" x2="1515.5" y2="590"/><line x1="1496" y1="610" x2="1515.5" y2="610"/><line x1="1496" y1="630" x2="1515.5" y2="630"/><line x1="1496" y1="650" x2="1515.5" y2="650"/>
<line x1="1523" y1="490" x2="1542.5" y2="490"/><line x1="1523" y1="510" x2="1542.5" y2="510"/><line x1="1523" y1="530" x2="1542.5" y2="530"/><line x1="1523" y1="550" x2="1542.5" y2="550"/><line x1="1523" y1="570" x2="1542.5" y2="570"/><line x1="1523" y1="590" x2="1542.5" y2="590"/><line x1="1523" y1="610" x2="1542.5" y2="610"/><line x1="1523" y1="630" x2="1542.5" y2="630"/><line x1="1523" y1="650" x2="1542.5" y2="650"/>
<rect x="1497" y="676" width="18" height="14"/><rect x="1523" y="676" width="18" height="14"/>
<rect x="1498" y="694" width="42" height="36"/>
</g>
<line x1="1492" y1="1056" x2="1544" y2="1056" stroke="#000" stroke-width="1"/>
<polygon points="1489,1056 1497,1053 1497,1059"/><polygon points="1547,1056 1539,1053 1539,1059"/>
<text transform="translate(1514,1072) rotate(90)" font-size="12">10 ft</text>
<!-- Aero analysis -->
<text x="1250" y="681" font-size="16" font-weight="bold" text-anchor="middle">Aerodynamic Analysis</text>
<text x="1056" y="704" font-size="6.5" font-weight="bold">Area</text>
<rect x="1076" y="710" width="162" height="175" fill="#fff" stroke="#999" stroke-width="0.5"/>
<g stroke="#ddd" stroke-width="0.4"><line x1="1076" y1="745" x2="1238" y2="745"/><line x1="1076" y1="780" x2="1238" y2="780"/><line x1="1076" y1="815" x2="1238" y2="815"/><line x1="1076" y1="850" x2="1238" y2="850"/><line x1="1116" y1="710" x2="1116" y2="885"/><line x1="1156" y1="710" x2="1156" y2="885"/><line x1="1196" y1="710" x2="1196" y2="885"/></g>
<path d="M1085,885 Q1105,800 1130,760 Q1155,710 1180,745 Q1200,790 1215,885" fill="none" stroke="#00d" stroke-width="1"/>
<path d="M1090,885 Q1100,800 1120,760 Q1140,745 1150,750 Q1162,760 1168,742 Q1178,732 1188,755 Q1205,800 1212,885" fill="none" stroke="#000" stroke-width="1" stroke-dasharray="1,1.5"/>
<path d="M1110,880 Q1120,790 1140,758 Q1160,770 1180,810 Q1195,850 1205,885" fill="none" stroke="#c00" stroke-width="0.8" stroke-dasharray="1,1.5"/>
<path d="M1165,885 Q1175,830 1188,828 Q1200,835 1210,880" fill="none" stroke="#cc0" stroke-width="0.9" stroke-dasharray="1,1.5"/>
<g font-size="5" text-anchor="end"><text x="1070" y="713">100.00</text><text x="1070" y="731">90.00</text><text x="1070" y="748">80.00</text><text x="1070" y="766">70.00</text><text x="1070" y="783">60.00</text><text x="1070" y="801">50.00</text><text x="1070" y="818">40.00</text><text x="1070" y="836">30.00</text><text x="1070" y="853">20.00</text><text x="1070" y="871">10.00</text><text x="1070" y="888">0.00</text></g>
<g font-size="5.5" text-anchor="middle"><text x="1078" y="897">0</text><text x="1097" y="897">20</text><text x="1116" y="897">40</text><text x="1136" y="897">60</text><text x="1156" y="897">80</text><text x="1176" y="897">100</text><text x="1196" y="897">120</text><text x="1216" y="897">140</text><text x="1236" y="897">160</text><text x="1144" y="905" font-weight="bold">Axis Location</text></g>
<g font-size="4.5" font-weight="bold"><text x="1056" y="920">Total</text><text x="1056" y="928">Fuselage</text><text x="1056" y="936">Wing</text><text x="1056" y="945">Canard</text><text x="1056" y="953">Vertical Stabilizer</text><text x="1056" y="962">Sears-Haack</text></g>
<rect x="1104" y="915" width="7" height="8" fill="#000"/><rect x="1104" y="923" width="7" height="8" fill="#d00"/><rect x="1104" y="931" width="7" height="8" fill="#ee0"/><rect x="1104" y="939" width="7" height="8" fill="#3c3"/><rect x="1104" y="947" width="7" height="8" fill="#0cc"/><rect x="1104" y="955" width="7" height="8" fill="#00d"/>
<text x="1188" y="935" font-size="6.5" text-anchor="middle">Total Wave Drag Coefficient</text>
<text x="1188" y="944" font-size="6.5" font-weight="bold" text-anchor="middle">0.0052</text>
<text x="1190" y="962" font-size="11" font-weight="bold" text-anchor="middle">Wave Drag</text>
<rect x="1250" y="706" width="170" height="12" fill="#b5a470"/>
<g><rect x="1250" y="718" width="170" height="19" fill="#ece8da"/><rect x="1250" y="737" width="170" height="19" fill="#f6f4ee"/><rect x="1250" y="756" width="170" height="19" fill="#ece8da"/><rect x="1250" y="775" width="170" height="19" fill="#f6f4ee"/><rect x="1250" y="794" width="170" height="19" fill="#ece8da"/><rect x="1250" y="813" width="170" height="23" fill="#f6f4ee"/></g>
<g font-size="5.5"><text x="1254" y="714" style="fill:#fff" font-weight="bold">Quantity</text><text x="1318" y="714" style="fill:#fff" font-weight="bold">Supersonic</text><text x="1368" y="714" style="fill:#fff" font-weight="bold">Subsonic</text><text x="1414" y="714" style="fill:#fff" font-weight="bold">Unit</text></g>
<g font-size="5.5" text-anchor="middle"><text x="1283" y="730">Altitude</text><text x="1340" y="730">60,000</text><text x="1385" y="730">40,000</text><text x="1427" y="730" font-style="italic">ft</text>
<text x="1283" y="749">Mach Number</text><text x="1340" y="749">2.0</text><text x="1385" y="749">0.95</text><text x="1427" y="749">~</text>
<text x="1283" y="768">Speed</text><text x="1340" y="768">1936.2</text><text x="1385" y="768">919</text><text x="1427" y="768" font-style="italic">ft − s</text>
<text x="1283" y="787">Weight</text><text x="1340" y="787">140,000</text><text x="1385" y="787">140,000</text><text x="1427" y="787" font-style="italic">lb</text>
<text x="1260" y="806" font-style="italic">Cₗ</text><text x="1340" y="806">0.1844</text><text x="1385" y="806">0.312</text><text x="1427" y="806">~</text>
<text x="1283" y="826">Angle of Attack</text><text x="1340" y="826">3.25</text><text x="1385" y="826">2.5</text><text x="1427" y="826" font-style="italic">deg</text></g>
<text x="1337" y="855" font-size="11" font-weight="bold" text-anchor="middle">Cruise Conditions</text>
<text x="1116" y="1002" font-size="11" font-weight="bold" text-anchor="middle">Shock Cone</text>
<polygon points="1075,1073 1220,1010 1220,1140" fill="#bcd7ec" opacity="0.8"/>
<polygon points="1075,1073 1170,1058 1170,1088" fill="#e9c6cc"/>
<path d="M1075,1073 Q1150,1060 1220,1058 L1400,1062 L1440,1000 L1455,1000 L1440,1070 L1470,1078 L1440,1086 L1420,1110 L1400,1085 L1220,1088 Q1150,1086 1075,1073 Z" fill="#b8b8b8" stroke="#777" stroke-width="0.6"/>
<path d="M1260,1062 L1350,1040 L1360,1062 Z M1260,1086 L1350,1110 L1360,1086 Z" fill="#a8a8a8" stroke="#777" stroke-width="0.5"/>
<line x1="1075" y1="1073" x2="1420" y2="1073" stroke="#000" stroke-width="1"/>
<text x="1124" y="1049" font-size="4">Shock Angle</text><text x="1124" y="1054" font-size="4">31.26 degrees</text>
<text x="1124" y="1069" font-size="4">11.5 degrees</text>
</svg>
</body></html>
